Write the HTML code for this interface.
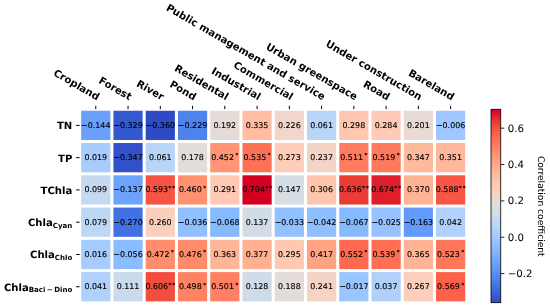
<!DOCTYPE html>
<html lang="en"><head><meta charset="utf-8"><title>Correlation heatmap</title>
<style>html,body{margin:0;padding:0;background:#fff}text{text-rendering:geometricPrecision}body{width:550px;height:308px;overflow:hidden}</style></head>
<body>
<svg width="550" height="308" viewBox="0 0 550 308" style="display:block">
<rect width="550" height="308" fill="#fff"/>
<g>
<rect x="81.18" y="110.75" width="29.21" height="29.27" fill="#6aa0fc"/>
<rect x="113.43" y="110.75" width="29.21" height="29.27" fill="#3458cf"/>
<rect x="145.69" y="110.75" width="29.21" height="29.27" fill="#2e4bc5"/>
<rect x="177.95" y="110.75" width="29.21" height="29.27" fill="#4e82ed"/>
<rect x="210.21" y="110.75" width="29.21" height="29.27" fill="#e5dbd7"/>
<rect x="242.47" y="110.75" width="29.21" height="29.27" fill="#ffbda1"/>
<rect x="274.72" y="110.75" width="29.21" height="29.27" fill="#f0d6cb"/>
<rect x="306.98" y="110.75" width="29.21" height="29.27" fill="#b8d4f7"/>
<rect x="339.24" y="110.75" width="29.21" height="29.27" fill="#ffc7af"/>
<rect x="371.50" y="110.75" width="29.21" height="29.27" fill="#ffcbb6"/>
<rect x="403.75" y="110.75" width="29.21" height="29.27" fill="#e8dad4"/>
<rect x="436.01" y="110.75" width="29.21" height="29.27" fill="#9ec8ff"/>
<rect x="81.18" y="143.02" width="29.21" height="29.27" fill="#a8cdfd"/>
<rect x="113.43" y="143.02" width="29.21" height="29.27" fill="#3150c9"/>
<rect x="145.69" y="143.02" width="29.21" height="29.27" fill="#b8d4f7"/>
<rect x="177.95" y="143.02" width="29.21" height="29.27" fill="#e0dddb"/>
<rect x="210.21" y="143.02" width="29.21" height="29.27" fill="#ff9574"/>
<rect x="242.47" y="143.02" width="29.21" height="29.27" fill="#ff7156"/>
<rect x="274.72" y="143.02" width="29.21" height="29.27" fill="#fecdb9"/>
<rect x="306.98" y="143.02" width="29.21" height="29.27" fill="#f4d4c7"/>
<rect x="339.24" y="143.02" width="29.21" height="29.27" fill="#ff7c5f"/>
<rect x="371.50" y="143.02" width="29.21" height="29.27" fill="#ff795c"/>
<rect x="403.75" y="143.02" width="29.21" height="29.27" fill="#ffb99c"/>
<rect x="436.01" y="143.02" width="29.21" height="29.27" fill="#ffb89b"/>
<rect x="81.18" y="175.29" width="29.21" height="29.27" fill="#c5d9f0"/>
<rect x="113.43" y="175.29" width="29.21" height="29.27" fill="#6da3fd"/>
<rect x="145.69" y="175.29" width="29.21" height="29.27" fill="#f75342"/>
<rect x="177.95" y="175.29" width="29.21" height="29.27" fill="#ff9271"/>
<rect x="210.21" y="175.29" width="29.21" height="29.27" fill="#ffc9b3"/>
<rect x="242.47" y="175.29" width="29.21" height="29.27" fill="#d30022"/>
<rect x="274.72" y="175.29" width="29.21" height="29.27" fill="#d5dde5"/>
<rect x="306.98" y="175.29" width="29.21" height="29.27" fill="#ffc5ac"/>
<rect x="339.24" y="175.29" width="29.21" height="29.27" fill="#eb3b35"/>
<rect x="371.50" y="175.29" width="29.21" height="29.27" fill="#de1e2a"/>
<rect x="403.75" y="175.29" width="29.21" height="29.27" fill="#ffb394"/>
<rect x="436.01" y="175.29" width="29.21" height="29.27" fill="#f85644"/>
<rect x="81.18" y="207.56" width="29.21" height="29.27" fill="#bed7f4"/>
<rect x="113.43" y="207.56" width="29.21" height="29.27" fill="#4371e2"/>
<rect x="145.69" y="207.56" width="29.21" height="29.27" fill="#fbcfbe"/>
<rect x="177.95" y="207.56" width="29.21" height="29.27" fill="#92c0ff"/>
<rect x="210.21" y="207.56" width="29.21" height="29.27" fill="#87b9ff"/>
<rect x="242.47" y="207.56" width="29.21" height="29.27" fill="#d2dce7"/>
<rect x="274.72" y="207.56" width="29.21" height="29.27" fill="#93c1ff"/>
<rect x="306.98" y="207.56" width="29.21" height="29.27" fill="#90bfff"/>
<rect x="339.24" y="207.56" width="29.21" height="29.27" fill="#87b9ff"/>
<rect x="371.50" y="207.56" width="29.21" height="29.27" fill="#96c3ff"/>
<rect x="403.75" y="207.56" width="29.21" height="29.27" fill="#649afa"/>
<rect x="436.01" y="207.56" width="29.21" height="29.27" fill="#b0d1fb"/>
<rect x="81.18" y="239.83" width="29.21" height="29.27" fill="#a6ccfd"/>
<rect x="113.43" y="239.83" width="29.21" height="29.27" fill="#8bbcff"/>
<rect x="145.69" y="239.83" width="29.21" height="29.27" fill="#ff8d6c"/>
<rect x="177.95" y="239.83" width="29.21" height="29.27" fill="#ff8b6b"/>
<rect x="210.21" y="239.83" width="29.21" height="29.27" fill="#ffb597"/>
<rect x="242.47" y="239.83" width="29.21" height="29.27" fill="#ffb091"/>
<rect x="274.72" y="239.83" width="29.21" height="29.27" fill="#ffc8b1"/>
<rect x="306.98" y="239.83" width="29.21" height="29.27" fill="#ffa383"/>
<rect x="339.24" y="239.83" width="29.21" height="29.27" fill="#ff6950"/>
<rect x="371.50" y="239.83" width="29.21" height="29.27" fill="#ff6f54"/>
<rect x="403.75" y="239.83" width="29.21" height="29.27" fill="#ffb496"/>
<rect x="436.01" y="239.83" width="29.21" height="29.27" fill="#ff775a"/>
<rect x="81.18" y="272.10" width="29.21" height="29.27" fill="#b0d1fb"/>
<rect x="113.43" y="272.10" width="29.21" height="29.27" fill="#cadaed"/>
<rect x="145.69" y="272.10" width="29.21" height="29.27" fill="#f34d3e"/>
<rect x="177.95" y="272.10" width="29.21" height="29.27" fill="#ff8263"/>
<rect x="210.21" y="272.10" width="29.21" height="29.27" fill="#ff8062"/>
<rect x="242.47" y="272.10" width="29.21" height="29.27" fill="#cfdbe9"/>
<rect x="274.72" y="272.10" width="29.21" height="29.27" fill="#e3dcd9"/>
<rect x="306.98" y="272.10" width="29.21" height="29.27" fill="#f6d4c5"/>
<rect x="339.24" y="272.10" width="29.21" height="29.27" fill="#9ac5ff"/>
<rect x="371.50" y="272.10" width="29.21" height="29.27" fill="#aed0fb"/>
<rect x="403.75" y="272.10" width="29.21" height="29.27" fill="#fccfbc"/>
<rect x="436.01" y="272.10" width="29.21" height="29.27" fill="#fd614a"/>
</g>
<g font-family="DejaVu Sans, Liberation Sans, sans-serif" font-size="7.95" fill="#000" stroke="#000" stroke-width="0.14" text-anchor="middle">
<text x="95.78" y="127.79">−0.144</text>
<text x="128.04" y="127.79">−0.329</text>
<text x="160.30" y="127.79">−0.360</text>
<text x="192.55" y="127.79">−0.229</text>
<text x="224.81" y="127.79">0.192</text>
<text x="257.07" y="127.79">0.335</text>
<text x="289.33" y="127.79">0.226</text>
<text x="321.59" y="127.79">0.061</text>
<text x="353.84" y="127.79">0.298</text>
<text x="386.10" y="127.79">0.284</text>
<text x="418.36" y="127.79">0.201</text>
<text x="450.62" y="127.79">−0.006</text>
<text x="95.78" y="160.06">0.019</text>
<text x="128.04" y="160.06">−0.347</text>
<text x="160.30" y="160.06">0.061</text>
<text x="192.55" y="160.06">0.178</text>
<text x="224.81" y="160.06">0.452<tspan font-size="5.56" dx="1.59" dy="-2.60">*</tspan></text>
<text x="257.07" y="160.06">0.535<tspan font-size="5.56" dx="1.59" dy="-2.60">*</tspan></text>
<text x="289.33" y="160.06">0.273</text>
<text x="321.59" y="160.06">0.237</text>
<text x="353.84" y="160.06">0.511<tspan font-size="5.56" dx="1.59" dy="-2.60">*</tspan></text>
<text x="386.10" y="160.06">0.519<tspan font-size="5.56" dx="1.59" dy="-2.60">*</tspan></text>
<text x="418.36" y="160.06">0.347</text>
<text x="450.62" y="160.06">0.351</text>
<text x="95.78" y="192.33">0.099</text>
<text x="128.04" y="192.33">−0.137</text>
<text x="160.30" y="192.33">0.593<tspan font-size="5.56" dx="0.3" dy="-2.60">*</tspan><tspan font-size="5.56" dx="1.11">*</tspan></text>
<text x="192.55" y="192.33">0.460<tspan font-size="5.56" dx="1.59" dy="-2.60">*</tspan></text>
<text x="224.81" y="192.33">0.291</text>
<text x="257.07" y="192.33">0.704<tspan font-size="5.56" dx="0.3" dy="-2.60">*</tspan><tspan font-size="5.56" dx="1.11">*</tspan></text>
<text x="289.33" y="192.33">0.147</text>
<text x="321.59" y="192.33">0.306</text>
<text x="353.84" y="192.33">0.636<tspan font-size="5.56" dx="0.3" dy="-2.60">*</tspan><tspan font-size="5.56" dx="1.11">*</tspan></text>
<text x="386.10" y="192.33">0.674<tspan font-size="5.56" dx="0.3" dy="-2.60">*</tspan><tspan font-size="5.56" dx="1.11">*</tspan></text>
<text x="418.36" y="192.33">0.370</text>
<text x="450.62" y="192.33">0.588<tspan font-size="5.56" dx="0.3" dy="-2.60">*</tspan><tspan font-size="5.56" dx="1.11">*</tspan></text>
<text x="95.78" y="224.59">0.079</text>
<text x="128.04" y="224.59">−0.270</text>
<text x="160.30" y="224.59">0.260</text>
<text x="192.55" y="224.59">−0.036</text>
<text x="224.81" y="224.59">−0.068</text>
<text x="257.07" y="224.59">0.137</text>
<text x="289.33" y="224.59">−0.033</text>
<text x="321.59" y="224.59">−0.042</text>
<text x="353.84" y="224.59">−0.067</text>
<text x="386.10" y="224.59">−0.025</text>
<text x="418.36" y="224.59">−0.163</text>
<text x="450.62" y="224.59">0.042</text>
<text x="95.78" y="256.87">0.016</text>
<text x="128.04" y="256.87">−0.056</text>
<text x="160.30" y="256.87">0.472<tspan font-size="5.56" dx="1.59" dy="-2.60">*</tspan></text>
<text x="192.55" y="256.87">0.476<tspan font-size="5.56" dx="1.59" dy="-2.60">*</tspan></text>
<text x="224.81" y="256.87">0.363</text>
<text x="257.07" y="256.87">0.377</text>
<text x="289.33" y="256.87">0.295</text>
<text x="321.59" y="256.87">0.417</text>
<text x="353.84" y="256.87">0.552<tspan font-size="5.56" dx="1.59" dy="-2.60">*</tspan></text>
<text x="386.10" y="256.87">0.539<tspan font-size="5.56" dx="1.59" dy="-2.60">*</tspan></text>
<text x="418.36" y="256.87">0.365</text>
<text x="450.62" y="256.87">0.523<tspan font-size="5.56" dx="1.59" dy="-2.60">*</tspan></text>
<text x="95.78" y="289.13">0.041</text>
<text x="128.04" y="289.13">0.111</text>
<text x="160.30" y="289.13">0.606<tspan font-size="5.56" dx="0.3" dy="-2.60">*</tspan><tspan font-size="5.56" dx="1.11">*</tspan></text>
<text x="192.55" y="289.13">0.498<tspan font-size="5.56" dx="1.59" dy="-2.60">*</tspan></text>
<text x="224.81" y="289.13">0.501<tspan font-size="5.56" dx="1.59" dy="-2.60">*</tspan></text>
<text x="257.07" y="289.13">0.128</text>
<text x="289.33" y="289.13">0.188</text>
<text x="321.59" y="289.13">0.241</text>
<text x="353.84" y="289.13">−0.017</text>
<text x="386.10" y="289.13">0.037</text>
<text x="418.36" y="289.13">0.267</text>
<text x="450.62" y="289.13">0.569<tspan font-size="5.56" dx="1.59" dy="-2.60">*</tspan></text>
</g>
<g stroke="#000" stroke-width="1" fill="none">
<path d="M95.78 109.15V105.85"/>
<path d="M128.04 109.15V105.85"/>
<path d="M160.30 109.15V105.85"/>
<path d="M192.55 109.15V105.85"/>
<path d="M224.81 109.15V105.85"/>
<path d="M257.07 109.15V105.85"/>
<path d="M289.33 109.15V105.85"/>
<path d="M321.59 109.15V105.85"/>
<path d="M353.84 109.15V105.85"/>
<path d="M386.10 109.15V105.85"/>
<path d="M418.36 109.15V105.85"/>
<path d="M450.62 109.15V105.85"/>
<path d="M79.65 125.39H76.08"/>
<path d="M79.65 157.66H76.08"/>
<path d="M79.65 189.93H76.08"/>
<path d="M79.65 222.19H76.08"/>
<path d="M79.65 254.47H76.08"/>
<path d="M79.65 286.74H76.08"/>
</g>
<g font-family="DejaVu Sans, Liberation Sans, sans-serif" font-weight="bold" font-size="10.09" fill="#000" text-anchor="end">
<text transform="translate(96.98,100.50) rotate(30)">Cropland</text>
<text transform="translate(129.24,100.50) rotate(30)">Forest</text>
<text transform="translate(161.50,100.50) rotate(30)">River</text>
<text transform="translate(193.75,100.50) rotate(30)">Pond</text>
<text transform="translate(226.01,100.50) rotate(30)">Residental</text>
<text transform="translate(258.27,100.50) rotate(30)">Industrial</text>
<text transform="translate(290.53,100.50) rotate(30)">Commercial</text>
<text transform="translate(322.79,100.50) rotate(30)">Public management and service</text>
<text transform="translate(355.04,100.50) rotate(30)">Urban greenspace</text>
<text transform="translate(387.30,100.50) rotate(30)">Road</text>
<text transform="translate(419.56,100.50) rotate(30)">Under construction</text>
<text transform="translate(451.82,100.50) rotate(30)">Bareland</text>
<text x="72.3" y="129.34">TN</text>
<text x="72.3" y="161.60">TP</text>
<text x="72.3" y="193.88">TChla</text>
<text x="72.3" y="226.14">Chla<tspan font-size="7.06" dy="1.61">Cyan</tspan></text>
<text x="72.3" y="258.42">Chla<tspan font-size="7.06" dy="1.61">Chlo</tspan></text>
<text x="72.3" y="290.69">Chla<tspan font-size="7.06" dy="1.61">Baci</tspan><tspan font-size="7.06" dx="1.41">−</tspan><tspan font-size="7.06" dx="1.41">Dino</tspan></text>
</g>
<defs><linearGradient id="cb" x1="0" y1="1" x2="0" y2="0">
<stop offset="0.0000" stop-color="#2e4bc5"/>
<stop offset="0.0156" stop-color="#3252cb"/>
<stop offset="0.0312" stop-color="#355ad1"/>
<stop offset="0.0469" stop-color="#3961d6"/>
<stop offset="0.0625" stop-color="#3d68dc"/>
<stop offset="0.0781" stop-color="#426fe1"/>
<stop offset="0.0938" stop-color="#4676e6"/>
<stop offset="0.1094" stop-color="#4b7dea"/>
<stop offset="0.1250" stop-color="#5083ee"/>
<stop offset="0.1406" stop-color="#558af1"/>
<stop offset="0.1562" stop-color="#5a90f5"/>
<stop offset="0.1719" stop-color="#6096f8"/>
<stop offset="0.1875" stop-color="#659cfa"/>
<stop offset="0.2031" stop-color="#6ba2fc"/>
<stop offset="0.2188" stop-color="#71a7fe"/>
<stop offset="0.2344" stop-color="#77acff"/>
<stop offset="0.2500" stop-color="#7db1ff"/>
<stop offset="0.2656" stop-color="#84b6ff"/>
<stop offset="0.2812" stop-color="#8abbff"/>
<stop offset="0.2969" stop-color="#90bfff"/>
<stop offset="0.3125" stop-color="#96c3ff"/>
<stop offset="0.3281" stop-color="#9dc7ff"/>
<stop offset="0.3438" stop-color="#a3cbfe"/>
<stop offset="0.3594" stop-color="#aacefc"/>
<stop offset="0.3750" stop-color="#b0d1fb"/>
<stop offset="0.3906" stop-color="#b6d4f8"/>
<stop offset="0.4062" stop-color="#bcd6f5"/>
<stop offset="0.4219" stop-color="#c2d8f2"/>
<stop offset="0.4375" stop-color="#c8daee"/>
<stop offset="0.4531" stop-color="#cedbea"/>
<stop offset="0.4688" stop-color="#d4dce6"/>
<stop offset="0.4844" stop-color="#d9dde2"/>
<stop offset="0.5000" stop-color="#dedddd"/>
<stop offset="0.5156" stop-color="#e5dbd7"/>
<stop offset="0.5312" stop-color="#ebd9d1"/>
<stop offset="0.5469" stop-color="#f0d6cb"/>
<stop offset="0.5625" stop-color="#f6d4c5"/>
<stop offset="0.5781" stop-color="#fad0bf"/>
<stop offset="0.5938" stop-color="#fecdb9"/>
<stop offset="0.6094" stop-color="#ffc9b3"/>
<stop offset="0.6250" stop-color="#ffc5ac"/>
<stop offset="0.6406" stop-color="#ffc0a6"/>
<stop offset="0.6562" stop-color="#ffbc9f"/>
<stop offset="0.6719" stop-color="#ffb799"/>
<stop offset="0.6875" stop-color="#ffb293"/>
<stop offset="0.7031" stop-color="#ffac8c"/>
<stop offset="0.7188" stop-color="#ffa686"/>
<stop offset="0.7344" stop-color="#ffa07f"/>
<stop offset="0.7500" stop-color="#ff9a79"/>
<stop offset="0.7656" stop-color="#ff9373"/>
<stop offset="0.7812" stop-color="#ff8d6c"/>
<stop offset="0.7969" stop-color="#ff8566"/>
<stop offset="0.8125" stop-color="#ff7e60"/>
<stop offset="0.8281" stop-color="#ff775a"/>
<stop offset="0.8438" stop-color="#ff6f54"/>
<stop offset="0.8594" stop-color="#ff674f"/>
<stop offset="0.8750" stop-color="#fc5e49"/>
<stop offset="0.8906" stop-color="#f85644"/>
<stop offset="0.9062" stop-color="#f34d3e"/>
<stop offset="0.9219" stop-color="#ee4339"/>
<stop offset="0.9375" stop-color="#e93834"/>
<stop offset="0.9531" stop-color="#e42c2f"/>
<stop offset="0.9688" stop-color="#de1e2a"/>
<stop offset="0.9844" stop-color="#d80926"/>
<stop offset="1.0000" stop-color="#d30022"/>
</linearGradient></defs>
<rect x="491.0" y="109.27" width="9.75" height="193.41" fill="url(#cb)" stroke="#000" stroke-width="0.8"/>
<g font-family="DejaVu Sans, Liberation Sans, sans-serif" font-size="10.20" fill="#000">
<path d="M500.75 128.17h3.57" stroke="#000" stroke-width="0.85"/>
<text x="507.75" y="131.74">0.6</text>
<path d="M500.75 164.53h3.57" stroke="#000" stroke-width="0.85"/>
<text x="507.75" y="168.10">0.4</text>
<path d="M500.75 200.89h3.57" stroke="#000" stroke-width="0.85"/>
<text x="507.75" y="204.46">0.2</text>
<path d="M500.75 237.24h3.57" stroke="#000" stroke-width="0.85"/>
<text x="507.75" y="240.81">0.0</text>
<path d="M500.75 273.60h3.57" stroke="#000" stroke-width="0.85"/>
<text x="507.75" y="277.17">−0.2</text>
<text transform="translate(537.9,206.28) rotate(90)" text-anchor="middle" font-size="9.13">Correlation coefficient</text>
</g>
</svg>
</body></html>
